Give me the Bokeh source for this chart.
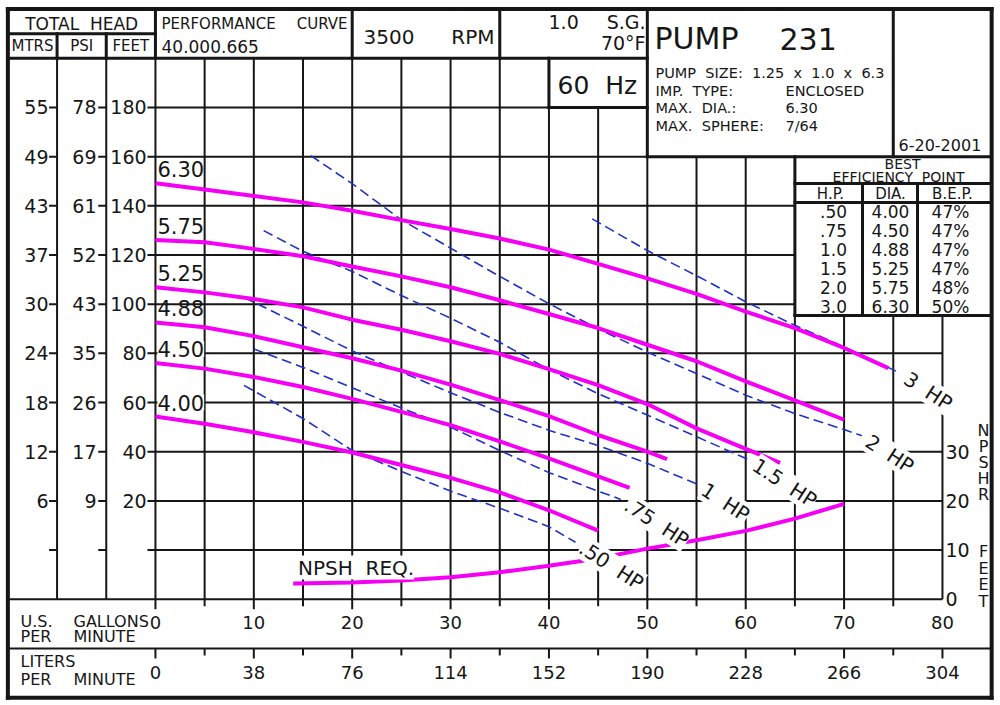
import numpy as np
from bokeh.plotting import figure
from bokeh.models import Range1d, ColumnDataSource
from bokeh.core.properties import value
from bokeh.embed import file_html
from bokeh.resources import INLINE

# ------------------------------------------------------------------ data
gpm_ticks = [0, 10, 20, 30, 40, 50, 60, 70, 80]
lpm_ticks = [0, 38, 76, 114, 152, 190, 228, 266, 304]
feet_ticks = [20, 40, 60, 80, 100, 120, 140, 160, 180]
mtrs_labels = ["6", "12", "18", "24", "30", "37", "43", "49", "55"]
psi_labels = ["9", "17", "26", "35", "43", "52", "61", "69", "78"]
npsh_ticks = [0, 10, 20, 30]

impeller_dia = ["6.30", "5.75", "5.25", "4.88", "4.50", "4.00"]
q_630 = [0, 5, 10, 15, 20, 25, 30, 35, 40, 45, 50, 55, 60, 65, 70, 74.5]
h_630 = [149.2, 146.6, 144.0, 141.4, 138.0, 134.2, 130.6, 126.7, 122.2, 116.4, 110.5, 104.2, 97.0, 90.3, 82.2, 74.0]
q_575 = [0, 5, 10, 15, 20, 25, 30, 35, 40, 45, 50, 55, 60, 65, 70]
h_575 = [126.1, 125.2, 122.5, 119.5, 115.3, 111.3, 106.9, 101.6, 96.0, 90.3, 83.5, 76.8, 68.6, 60.9, 53.0]
q_525 = [0, 5, 10, 15, 20, 25, 30, 35, 40, 45, 50, 55, 60, 63.5]
h_525 = [106.9, 104.8, 102.1, 98.7, 93.7, 89.6, 84.9, 79.8, 73.6, 67.1, 59.4, 49.5, 41.2, 35.5]
q_488 = [0, 5, 10, 15, 20, 25, 30, 35, 40, 45, 50, 52]
h_488 = [92.6, 90.6, 87.0, 82.5, 78.0, 73.0, 67.3, 61.0, 54.5, 46.8, 40.0, 37.0]
q_450 = [0, 5, 10, 15, 20, 25, 30, 35, 40, 45, 48.2]
h_450 = [76.1, 73.8, 70.4, 66.3, 61.5, 56.2, 50.8, 44.2, 37.3, 30.0, 25.3]
q_400 = [0, 5, 10, 15, 20, 25, 30, 35, 40, 45]
h_400 = [54.3, 51.4, 47.9, 44.0, 39.7, 34.6, 29.4, 23.5, 16.2, 7.9]

hp_rating = ["3", "2", "1.5", "1", ".75", ".50"]
hp3_q = [44.4, 50, 55, 60, 65, 70, 75.7]
hp3_h = [134.7, 121.8, 111.6, 101.0, 91.4, 82.6, 72.0]
hp2_q = [15.8, 20, 25, 30, 35, 40, 45, 50, 55, 60, 65, 70, 71.8]
hp2_h = [160.4, 149.0, 134.3, 122.8, 111.3, 100.2, 90.0, 80.5, 71.8, 63.0, 55.5, 49.0, 46.5]
hp15_q = [11, 15, 20, 25, 30, 35, 40, 45, 50, 55, 60.3]
hp15_h = [129.9, 121.5, 113.3, 103.5, 94.3, 84.5, 73.4, 63.6, 54.9, 46.1, 36.8]
hp1_q = [9, 15, 20, 25, 30, 35, 40, 45, 50, 55.1]
hp1_h = [102.8, 91.0, 81.0, 72.4, 64.0, 56.0, 48.7, 42.5, 35.3, 26.8]
hp075_q = [10, 15, 20, 25, 30, 35, 40, 45, 47.3]
hp075_h = [81.8, 74.3, 66.0, 57.8, 50.0, 40.5, 31.5, 24.0, 20.6]
hp050_q = [9, 15, 20, 25, 30, 35, 40, 42.7]
hp050_h = [67.0, 53.5, 40.5, 32.0, 24.0, 17.0, 9.5, 3.2]

npsh_q = [14, 20, 25, 30, 35, 40, 45, 50, 55, 60, 65, 70]
npsh_ft = [3.2, 3.4, 3.8, 4.5, 5.5, 6.8, 8.3, 10.3, 12.0, 13.9, 16.4, 19.4]

bep_hp = [".50", ".75", "1.0", "1.5", "2.0", "3.0"]
bep_dia = ["4.00", "4.50", "4.88", "5.25", "5.75", "6.30"]
bep_eff = ["47%", "47%", "47%", "47%", "48%", "50%"]

pump_info = [("PUMP  SIZE:  1.25  x  1.0  x  6.3", ""),
             ("IMP.  TYPE:", "ENCLOSED"),
             ("MAX.  DIA.:", "6.30"),
             ("MAX.  SPHERE:", "7/64")]

# ------------------------------------------------------------------ figure
X0, X1 = -15.75, 85.9          # GPM
Y0, Y1 = -63.2, 223.5          # feet of head
LPM_PER_GPM = 3.8


def ft_to_npsh(ft):
    return 10 + ft / 2.0


W, H = 1000, 705
PXX = (X1 - X0) / W
PXY = (Y1 - Y0) / H


def X(px):
    return X0 + px * PXX


def Y(py):
    return Y1 - py * PXY


p = figure(width=W, height=H, x_range=Range1d(X0, X1), y_range=Range1d(Y0, Y1),
           x_axis_type=None, y_axis_type=None, output_backend="svg",
           toolbar_location=None, min_border=0, outline_line_color=None,
           background_fill_color="white", border_fill_color="white")
p.grid.visible = False
p.extra_x_ranges = {"lpm": Range1d(X0 * LPM_PER_GPM, X1 * LPM_PER_GPM)}
p.extra_y_ranges = {"npsh": Range1d(ft_to_npsh(Y0), ft_to_npsh(Y1))}

INK = "#161616"
FONT = value("DejaVu Sans")

# layout frame (in chart units, the drawing sheet is laid on the grid)
LEFT, RIGHT, TOP, BOTTOM = -15, 85, 220, -60
HEAD_SPLIT, PLOT_TOP, PLOT_BOT, LPM_LINE = 210, 200, -20, -40
BEP_LEFT, BEP_BOT = 65, Y(315)
BEP_R1, BEP_R2 = Y(183), Y(202)
BEP_C1, BEP_C2 = X(862), X(917)

grid = dict(x0=[], y0=[], x1=[], y1=[])
thick = dict(x0=[], y0=[], x1=[], y1=[])


def seg(d, x0, y0, x1, y1):
    d["x0"].append(x0); d["y0"].append(y0); d["x1"].append(x1); d["y1"].append(y1)


# horizontal grid lines
for ft in [0] + feet_ticks:
    if ft <= 80:
        xe = 80
    elif ft <= 140:
        xe = BEP_LEFT
    else:
        xe = 50
    seg(grid, -8 * PXX, ft, xe, ft)
    seg(grid, -10 - 8 * PXX, ft, -10, ft)
    seg(grid, -5 - 8 * PXX, ft, -5, ft)

# vertical grid lines
for g in range(0, 85, 5):
    if g <= 40:
        top = PLOT_TOP
    elif g == 45:
        top = 180
    elif g <= 60:
        top = 160
    else:
        top = BEP_BOT
    seg(grid, g, top, g, PLOT_BOT)
for g in (-10, -5):
    seg(grid, g, PLOT_TOP, g, PLOT_BOT)

# axis rows
seg(grid, LEFT, PLOT_BOT, 80, PLOT_BOT)
seg(grid, LEFT, LPM_LINE, RIGHT, LPM_LINE)
for g in range(0, 85, 5):
    ln = (10 if g % 10 == 0 else 7) * PXY
    if g < 80:
        seg(grid, g, PLOT_BOT, g, PLOT_BOT - ln)
    seg(grid, g, LPM_LINE, g, LPM_LINE - ln)

# header & boxes
seg(thick, LEFT, PLOT_TOP, 50, PLOT_TOP)
seg(thick, LEFT, HEAD_SPLIT, 0, HEAD_SPLIT)
seg(thick, 50, 160, RIGHT, 160)
seg(thick, 40, 180, 50, 180)
for xv in (0, 20, 35):
    seg(thick, xv, TOP, xv, PLOT_TOP)
for xv in (50, 75):
    seg(thick, xv, TOP, xv, 160)
seg(thick, 40, PLOT_TOP, 40, 180)
for xv in (-10, -5):
    seg(thick, xv, HEAD_SPLIT, xv, PLOT_TOP)
seg(thick, BEP_LEFT, 160, BEP_LEFT, BEP_BOT)
seg(thick, BEP_LEFT, BEP_BOT, RIGHT, BEP_BOT)
seg(thick, BEP_LEFT, BEP_R1, RIGHT, BEP_R1)
seg(thick, BEP_LEFT, BEP_R2, RIGHT, BEP_R2)
seg(thick, BEP_C1, BEP_R1, BEP_C1, BEP_BOT)
seg(thick, BEP_C2, BEP_R1, BEP_C2, BEP_BOT)

p.segment("x0", "y0", "x1", "y1", source=ColumnDataSource(grid), line_color=INK, line_width=2)
p.segment("x0", "y0", "x1", "y1", source=ColumnDataSource(thick), line_color=INK, line_width=3,
          line_cap="square")
p.segment(x0=[LEFT, RIGHT, RIGHT, LEFT], y0=[TOP, TOP, BOTTOM, BOTTOM],
          x1=[RIGHT, RIGHT, LEFT, LEFT], y1=[TOP, BOTTOM, BOTTOM, TOP],
          line_color=INK, line_width=4, line_cap="square")

# ------------------------------------------------------------------ curves
hp_lines = [(hp3_q, hp3_h), (hp2_q, hp2_h), (hp15_q, hp15_h),
            (hp1_q, hp1_h), (hp075_q, hp075_h), (hp050_q, hp050_h)]
for q, h in hp_lines:
    p.line(q, h, line_color="#2030c8", line_width=1.6, line_dash="10 5")

MAG = "#f500f5"
imp_curves = [(q_630, h_630), (q_575, h_575), (q_525, h_525),
              (q_488, h_488), (q_450, h_450), (q_400, h_400)]
for q, h in imp_curves:
    p.line(q, h, line_color=MAG, line_width=4, line_join="round")

p.line(npsh_q, npsh_ft, line_color=MAG, line_width=4, y_range_name="npsh")


# ------------------------------------------------------------------ text
NBSP = "\u00a0"


def label(xs, ys, ss, size, align="left", baseline="middle", angle=0.0, bg=None,
          x_range_name="default", y_range_name="default", color=INK):
    src = ColumnDataSource(dict(x=list(xs), y=list(ys),
                                text=[s.replace(" ", NBSP) for s in ss]))
    kw = {}
    if bg is not None:
        kw["background_fill_color"] = bg
    p.text("x", "y", "text", source=src, text_font=FONT, text_font_size=f"{size}px",
           text_align=align, text_baseline=baseline, angle=angle, text_color=color,
           x_range_name=x_range_name, y_range_name=y_range_name, **kw)


# curve labels
lab_x = [0.2] * len(impeller_dia)
lab_y = [c[1][0] + 14 * PXY for c in imp_curves]
label(lab_x[:4], lab_y[:4], impeller_dia[:4], 21)
label(lab_x[4:], lab_y[4:], impeller_dia[4:], 21, bg="white")

# HP labels at the end of each dashed line
ang = np.deg2rad(-33)
off = 7
hx = [q[-1] + off * np.cos(ang) * PXX for q, h in hp_lines]
hy = [h[-1] + off * np.sin(ang) * PXY for q, h in hp_lines]
label(hx, hy, [f"{r}  HP" for r in hp_rating], 20, angle=ang, bg="white")

label([14.5], [Y(567)], ["NPSH  REQ."], 20, bg="white")

# left scales
label([-0.9] * 9, feet_ticks, [str(f) for f in feet_ticks], 19, align="right")
label([X(96)] * 9, feet_ticks, psi_labels, 19, align="right")
label([X(48)] * 9, feet_ticks, mtrs_labels, 19, align="right")

# flow scales
label(gpm_ticks, [Y(622)] * len(gpm_ticks), [str(g) for g in gpm_ticks], 18, align="center")
label(lpm_ticks, [Y(672)] * len(lpm_ticks), [str(v) for v in lpm_ticks], 18, align="center",
      x_range_name="lpm")
label([X(20), X(73), X(20), X(73)], [Y(621), Y(621), Y(636), Y(636)],
      ["U.S.", "GALLONS", "PER", "MINUTE"], 16)
label([X(20), X(20), X(73)], [Y(661), Y(679), Y(679)], ["LITERS", "PER", "MINUTE"], 16)

# NPSH scale
label([X(945)] * 4, npsh_ticks, [str(v) for v in npsh_ticks], 19, y_range_name="npsh")
word1 = list("NPSHR")
word2 = list("FEET")
label([X(983)] * 5, [Y(430 + 16 * i) for i in range(5)], word1, 16, align="center")
label([X(983)] * 4, [Y(551 + 16.5 * i) for i in range(4)], word2, 16, align="center")

# header
label([-7.5], [Y(23.5)], ["TOTAL  HEAD"], 17, align="center")
label([-12.5, -7.5, -2.5], [Y(45.5)] * 3, ["MTRS", "PSI", "FEET"], 15, align="center")
label([X(161)], [Y(23)], ["PERFORMANCE"], 15)
label([X(347)], [Y(23)], ["CURVE"], 15, align="right")
label([X(161)], [Y(45.5)], ["40.000.665"], 17)
label([X(363)], [Y(36)], ["3500"], 20)
label([X(494)], [Y(36)], ["RPM"], 20, align="right")
label([X(548)], [Y(21.5)], ["1.0"], 19)
label([X(645)], [Y(21.5)], ["S.G."], 19, align="right")
label([X(645)], [Y(42)], ["70°F"], 19, align="right")
label([X(557)], [Y(85)], ["60  Hz"], 25)
label([X(654)], [Y(38)], ["PUMP"], 30)
label([X(779)], [Y(38)], ["231"], 30)
info_y = [72, 90.5, 107.5, 125.3]
label([X(655)] * 4, [Y(v) for v in info_y], [a for a, b in pump_info], 14.5)
label([X(785)] * 4, [Y(v) for v in info_y], [b for a, b in pump_info], 14.5)
label([X(898)], [Y(144)], ["6-20-2001"], 16)

# BEP table
label([X(902)], [Y(163)], ["BEST"], 14, align="center")
label([X(898)], [Y(176)], ["EFFICIENCY  POINT"], 14, align="center")
label([X(830), X(890), X(952)], [Y(193)] * 3, ["H.P.", "DIA.", "B.E.P."], 15, align="center")
row_y = [Y(211 + 19 * i) for i in range(len(bep_hp))]
label([X(833)] * 6, row_y, bep_hp, 17, align="center")
label([X(890)] * 6, row_y, bep_dia, 17, align="center")
label([X(950)] * 6, row_y, bep_eff, 17, align="center")

open("out.html", "w").write(file_html(p, INLINE))
